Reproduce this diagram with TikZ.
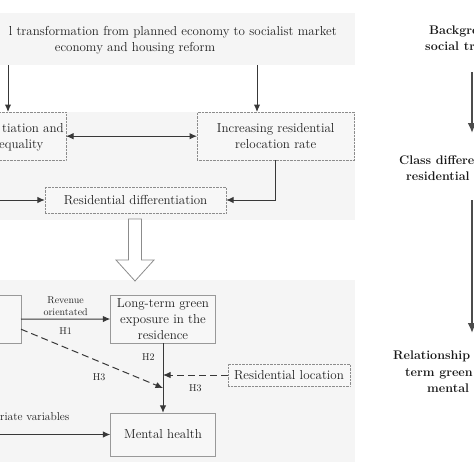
\documentclass[tikz,border=0pt]{standalone}
\usepackage{tikz}
\usetikzlibrary{arrows.meta}
\newcommand{\boxfont}{\fontsize{13}{16}\selectfont}
\newcommand{\tagfont}{\fontsize{10}{12}\selectfont}
\newcommand{\covfont}{\fontsize{11.5}{14}\selectfont}
\newcommand{\sidefont}{\fontsize{12.5}{15}\selectfont\bfseries}
\tikzset{
    panel-box/.style = {fill=black!4, draw=none, rectangle, inner sep=0pt},
    dotted-box/.style = {draw=black!45, densely dotted, fill=black!3, rectangle, inner sep=2pt, font=\boxfont, text=black!88, align=center},
    solid-box/.style = {draw=black!40, fill=black!3, thin, rectangle, inner sep=2pt, font=\boxfont, text=black!88, align=center},
    plain-text/.style = {font=\boxfont, text=black!88, inner sep=0pt},
    label-text/.style = {font=\tagfont, text=black!85, inner sep=2pt},
    side-text/.style = {font=\sidefont, text=black!90, inner sep=0pt},
    link-arrow/.style = {draw=black!78, line width=1pt, -{Latex[length=7.5pt,width=6.5pt]}},
    side-arrow/.style = {draw=black!70, line width=2.2pt, -{Latex[length=10pt,width=9pt]}},
}
\begin{document}
\begin{tikzpicture}[x=1pt, y=-1pt]
\useasboundingbox (0,0) rectangle (474,474);
\clip (0,0) rectangle (474,474);

% background panels
\node[panel-box, anchor=north east, minimum width=420, minimum height=52] (top) at (355,13) {};
\node[panel-box, anchor=north east, minimum width=420, minimum height=108] (mid) at (355,112) {};
\node[panel-box, anchor=north east, minimum width=420, minimum height=182] (bot) at (355,280) {};

% top
\node[plain-text, anchor=base east] (top-a) at (337,35) {l transformation from planned economy to socialist market};
\node[plain-text, anchor=base] (top-b) at (135,51) {economy and housing reform};

% middle
\node[dotted-box, anchor=north east, minimum width=150, minimum height=48] (class) at (66,112) {};
\node[plain-text, anchor=base west] (class-a) at (2,132) {tiation and};
\node[plain-text, anchor=base west] (class-b) at (-1,148) {equality};
\node[dotted-box, anchor=north west, minimum width=157, minimum height=48] (relocation) at (197,112) {Increasing residential\\relocation rate};
\node[dotted-box, minimum width=181, minimum height=26] (resdiff) at (135.5,200) {Residential differentiation};
\coordinate (class-in) at (8,0);
\coordinate (reloc-in) at (257,0);
\coordinate (class-out) at (-10,200);

\draw[link-arrow] (top.south -| class-in) -- (class.north -| class-in);
\draw[link-arrow] (top.south -| reloc-in) -- (relocation.north -| reloc-in);
\draw[link-arrow, {Latex[length=7.5pt,width=6.5pt]}-{Latex[length=7.5pt,width=6.5pt]}] (class.east) -- (relocation.west);
\draw[link-arrow] (class-out) -- (resdiff.west);
\draw[link-arrow] (relocation.south) |- (resdiff.east);

% hollow arrow
\draw[draw=black!45, fill=white, line width=0.8pt] (128.5,219) -- (141.5,219) -- (141.5,260) -- (154,260) -- (135,281) -- (116,260) -- (128.5,260) -- cycle;

% bottom
\node[solid-box, anchor=north east, minimum width=120, minimum height=48] (source) at (21,295) {};
\node[solid-box, minimum width=105, minimum height=48] (green) at (163,319) {Long-term green\\exposure in the\\residence};
\node[solid-box, minimum width=105, minimum height=43] (mental) at (163,434.5) {Mental health};
\node[dotted-box, minimum width=122, minimum height=22] (location) at (289,375) {Residential location};
\node[plain-text, font=\covfont, anchor=base west] (covar) at (0,420) {riate variables};
\coordinate (h3-meet) at (163,388);
\coordinate (covar-out) at (-10,434.5);

\draw[link-arrow] (source.east) -- node[label-text, above=1pt, align=center] {Revenue\\orientated} node[label-text, below=6.5pt] {H1} (green.west);
\draw[link-arrow, dash pattern=on 7pt off 4pt] ([yshift=-10pt]source.east) -- node[label-text, pos=0.55, below=10pt] {H3} (h3-meet);
\draw[link-arrow] (green.south) -- node[label-text, left=6pt, pos=0.2] {H2} (mental.north);
\draw[link-arrow, dash pattern=on 7pt off 4pt] (location.west) -- node[label-text, below=7.5pt] {H3} (location.west -| green.south);
\draw[link-arrow] (covar-out) -- (mental.west);

% right column
\node[side-text, anchor=base west] (bg-a) at (429,34) {Backgro};
\node[side-text, anchor=base west] (bg-b) at (425,50) {social tr};
\node[side-text, anchor=base west] (cd-a) at (399,164) {Class differe};
\node[side-text, anchor=base west] (cd-b) at (406,180) {residential};
\node[side-text, anchor=base west] (rl-a) at (393,359) {Relationship};
\node[side-text, anchor=base west] (rl-b) at (405,376) {term green e};
\node[side-text, anchor=base west] (rl-c) at (427,392) {mental};
\coordinate (s1-top) at (472,72);
\coordinate (s1-end) at (472,133);
\coordinate (s2-top) at (472,200);
\coordinate (s2-end) at (472,333);
\draw[side-arrow] (s1-top) -- (s1-end);
\draw[side-arrow] (s2-top) -- (s2-end);
\end{tikzpicture}
\end{document}
